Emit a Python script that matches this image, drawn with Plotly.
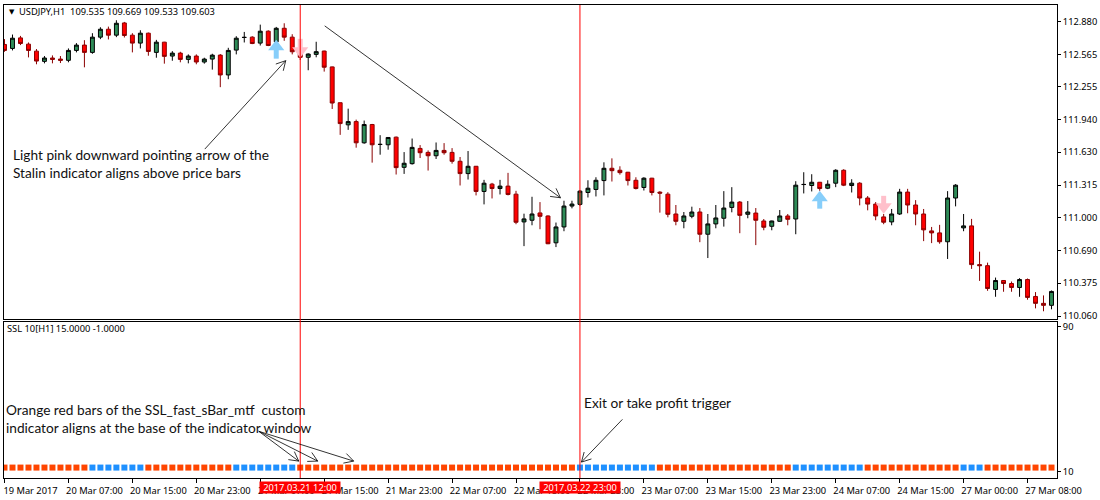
import math

import plotly.graph_objects as go
from plotly.subplots import make_subplots

# USDJPY H1 bars
open_price = [
    112.662, 112.624, 112.725, 112.665, 112.598, 112.500, 112.532, 112.522, 112.510, 112.605, 112.656,
    112.586, 112.732, 112.808, 112.751, 112.868, 112.751, 112.675, 112.770, 112.586, 112.684, 112.551,
    112.579, 112.519, 112.551, 112.494, 112.522, 112.560, 112.370, 112.608, 112.729, 112.732, 112.675,
    112.789, 112.687, 112.817, 112.732, 112.586, 112.539, 112.567, 112.599, 112.447, 112.104, 111.892,
    111.923, 111.720, 111.895, 111.704, 111.701, 111.774, 111.485, 111.520, 111.666, 111.628, 111.596,
    111.647, 111.628, 111.543, 111.425, 111.495, 111.254, 111.324, 111.282, 111.305, 111.228, 110.962,
    110.978, 111.048, 111.019, 110.762, 110.914, 111.114, 111.130, 111.244, 111.273, 111.358, 111.476,
    111.457, 111.438, 111.361, 111.292, 111.381, 111.247, 111.228, 111.038, 110.968, 111.016, 111.057,
    110.844, 110.943, 110.997, 111.101, 111.152, 111.035, 111.047, 110.971, 110.920, 110.968, 111.019,
    110.990, 111.320, 111.311, 111.342, 111.285, 111.333, 111.457, 111.311, 111.333, 111.191, 111.133,
    111.010, 110.962, 111.038, 111.248, 111.124, 111.038, 110.876, 110.857, 110.772, 111.191, 110.905,
    110.924, 110.553, 110.543, 110.315, 110.401, 110.372, 110.334, 110.410, 110.248, 110.182, 110.163]
high_price = [
    112.713, 112.757, 112.744, 112.681, 112.618, 112.551, 112.557, 112.551, 112.624, 112.675, 112.703,
    112.770, 112.827, 112.833, 112.894, 112.878, 112.770, 112.798, 112.776, 112.706, 112.687, 112.598,
    112.592, 112.567, 112.567, 112.535, 112.573, 112.570, 112.630, 112.741, 112.782, 112.741, 112.852,
    112.798, 112.830, 112.865, 112.760, 112.609, 112.577, 112.688, 112.602, 112.450, 112.104, 112.047,
    111.942, 111.933, 111.901, 111.793, 111.774, 111.780, 111.631, 111.761, 111.698, 111.647, 111.723,
    111.717, 111.669, 111.584, 111.641, 111.498, 111.365, 111.336, 111.365, 111.432, 111.260, 111.041,
    111.203, 111.152, 111.025, 110.956, 111.165, 111.165, 111.267, 111.361, 111.390, 111.533, 111.571,
    111.495, 111.441, 111.390, 111.390, 111.384, 111.257, 111.247, 111.124, 111.057, 111.108, 111.095,
    111.038, 111.124, 111.257, 111.295, 111.162, 111.162, 111.095, 110.990, 110.974, 111.076, 111.038,
    111.352, 111.438, 111.419, 111.345, 111.361, 111.467, 111.467, 111.371, 111.343, 111.210, 111.152,
    111.038, 111.086, 111.279, 111.279, 111.171, 111.086, 110.914, 110.934, 111.257, 111.324, 111.038,
    110.991, 110.677, 110.572, 110.429, 110.404, 110.391, 110.423, 110.420, 110.290, 110.258, 110.305]
low_price = [
    112.592, 112.605, 112.656, 112.538, 112.472, 112.481, 112.481, 112.484, 112.491, 112.586, 112.443,
    112.573, 112.713, 112.710, 112.732, 112.729, 112.586, 112.624, 112.554, 112.535, 112.478, 112.506,
    112.491, 112.481, 112.472, 112.478, 112.421, 112.253, 112.329, 112.567, 112.681, 112.665, 112.652,
    112.646, 112.656, 112.697, 112.567, 112.513, 112.415, 112.539, 112.402, 112.044, 111.796, 111.844,
    111.673, 111.711, 111.530, 111.606, 111.654, 111.416, 111.422, 111.511, 111.574, 111.454, 111.565,
    111.606, 111.520, 111.311, 111.368, 111.216, 111.130, 111.187, 111.225, 111.216, 110.940, 110.730,
    110.930, 110.892, 110.749, 110.721, 110.873, 111.092, 111.117, 111.196, 111.206, 111.216, 111.349,
    111.415, 111.311, 111.273, 111.263, 111.216, 111.051, 111.006, 110.930, 110.901, 110.997, 110.768,
    110.616, 110.901, 110.917, 111.054, 110.854, 110.997, 110.740, 110.882, 110.882, 110.965, 110.930,
    110.844, 111.235, 111.254, 111.260, 111.276, 111.295, 111.305, 111.244, 111.121, 111.073, 110.978,
    110.940, 110.930, 111.029, 111.045, 110.930, 110.778, 110.759, 110.753, 110.607, 111.111, 110.873,
    110.512, 110.397, 110.302, 110.245, 110.293, 110.293, 110.245, 110.217, 110.134, 110.106, 110.125]
close_price = [
    112.605, 112.722, 112.671, 112.605, 112.503, 112.532, 112.519, 112.510, 112.605, 112.656, 112.586,
    112.732, 112.808, 112.751, 112.865, 112.748, 112.675, 112.770, 112.595, 112.684, 112.548, 112.579,
    112.519, 112.551, 112.494, 112.522, 112.560, 112.370, 112.605, 112.722, 112.730, 112.671, 112.789,
    112.652, 112.817, 112.732, 112.592, 112.539, 112.570, 112.593, 112.444, 112.101, 111.904, 111.923,
    111.720, 111.895, 111.701, 111.705, 111.771, 111.482, 111.524, 111.676, 111.625, 111.596, 111.647,
    111.625, 111.543, 111.425, 111.495, 111.254, 111.333, 111.282, 111.305, 111.225, 110.959, 110.991,
    111.038, 111.016, 110.753, 110.914, 111.114, 111.133, 111.257, 111.285, 111.361, 111.476, 111.453,
    111.434, 111.358, 111.282, 111.381, 111.244, 111.238, 111.035, 110.968, 111.019, 111.057, 110.844,
    110.943, 111.000, 111.095, 111.152, 111.025, 111.057, 110.978, 110.911, 110.971, 111.019, 110.987,
    111.314, 111.321, 111.342, 111.282, 111.323, 111.457, 111.314, 111.333, 111.191, 111.133, 111.019,
    110.959, 111.038, 111.248, 111.124, 111.038, 110.886, 110.857, 110.772, 111.191, 111.314, 110.924,
    110.553, 110.543, 110.324, 110.401, 110.372, 110.334, 110.410, 110.239, 110.182, 110.163, 110.296]

bars = list(range(len(close_price)))

# SSL bars, 1 = blue, 0 = orange red
ssl_state = [
    0, 0, 0, 0, 0, 0, 0, 0, 0, 0, 0, 1, 1, 1, 1, 1, 1, 1, 0, 0, 0, 0, 0, 0, 0, 0, 0, 0, 0, 1, 1, 1, 1,
    1, 1, 1, 1, 0, 0, 0, 0, 0, 0, 0, 0, 0, 0, 0, 0, 0, 0, 0, 0, 0, 0, 0, 0, 0, 0, 0, 0, 0, 0, 0, 0, 0,
    0, 0, 0, 0, 0, 0, 1, 1, 1, 1, 1, 1, 1, 1, 1, 1, 0, 0, 0, 0, 0, 0, 0, 0, 0, 0, 0, 0, 0, 0, 0, 0, 0,
    1, 1, 1, 1, 1, 1, 1, 1, 1, 0, 0, 0, 0, 0, 0, 0, 0, 0, 0, 0, 0, 1, 1, 1, 0, 0, 0, 0, 0, 0, 0, 0, 0, 0, 0]
ssl_level = 12.3

# Stalin indicator arrows: tail of the shaft and middle of the head, as prices
stalin_up_bars = [34, 102]
stalin_up_tail = [112.526, 111.089]
stalin_up_head = [112.639, 111.193]
stalin_down_bars = [37, 110]
stalin_down_tail = [112.716, 111.212]
stalin_down_head = [112.602, 111.108]

price_ticks = [112.880, 112.565, 112.255, 111.940, 111.630, 111.315, 111.000, 110.690, 110.375, 110.060]
ssl_ticks = [90, 10]
time_tick_bars = [0, 8, 16, 24, 32, 40, 48, 56, 64, 72, 80, 88, 96, 104, 112, 120, 128]
time_tick_labels = ['19 Mar 2017', '20 Mar 07:00', '20 Mar 15:00', '20 Mar 23:00', '21 Mar 07:00', '21 Mar 15:00',
                    '21 Mar 23:00', '22 Mar 07:00', '22 Mar 15:00', '22 Mar 23:00', '23 Mar 07:00', '23 Mar 15:00',
                    '23 Mar 23:00', '24 Mar 07:00', '24 Mar 15:00', '27 Mar 00:00', '27 Mar 08:00']
cursor_bars = [37, 72]
cursor_labels = ['2017.03.21 12:00', '2017.03.22 23:00']

W, H = 1100, 500
LEFT, RIGHT, TOP, BOTTOM = 3, 1057, 3, 479
TICK_FONT = dict(family='Noto Sans', size=9.3, color='black')
NOTE_FONT = dict(family='Lato', size=13.7, color='#111111')


def px(x):
    return (x - LEFT) / (RIGHT - LEFT)


def py(y):
    return (BOTTOM - y) / (BOTTOM - TOP)


def stalin_arrow(bar_list, tails, heads, color, symbol):
    # shaft as a thick line, head as a triangle marker
    xs, ys = [], []
    for b, tail, head in zip(bar_list, tails, heads):
        xs += [b, b, None]
        ys += [tail, head, None]
    fig.add_trace(go.Scatter(x=xs, y=ys, mode='lines', line=dict(color=color, width=5), showlegend=False),
                  row=1, col=1)
    fig.add_trace(go.Scatter(x=bar_list, y=heads, mode='markers', showlegend=False,
                             marker=dict(symbol=symbol, size=14, color=color, line=dict(width=0))),
                  row=1, col=1)


fig = make_subplots(rows=2, cols=1, shared_xaxes=True)

fig.add_trace(go.Candlestick(
    x=bars, open=open_price, high=high_price, low=low_price, close=close_price,
    increasing=dict(fillcolor='#2E8B57', line=dict(color='black', width=1)),
    decreasing=dict(fillcolor='#FF0000', line=dict(color='#8B0000', width=1)),
    showlegend=False), row=1, col=1)

stalin_arrow(stalin_up_bars, stalin_up_tail, stalin_up_head, '#87CEFA', 'triangle-up')
stalin_arrow(stalin_down_bars, stalin_down_tail, stalin_down_head, '#FFC0CB', 'triangle-down')

fig.add_trace(go.Scatter(
    x=bars, y=[ssl_level] * len(bars), mode='markers',
    marker=dict(symbol='square', size=6, line=dict(width=0),
                color=['#1E90FF' if s else '#FF4500' for s in ssl_state]),
    showlegend=False), row=2, col=1)

for b in cursor_bars:
    fig.add_shape(type='line', xref='x', yref='paper', x0=b, x1=b, y0=0, y1=1,
                  line=dict(color='#FF0000', width=1))

notes = [
    (10, 163, 'Light pink downward pointing arrow of the<br>Stalin indicator aligns above price bars'),
    (3, 419, 'Orange red bars of the SSL_fast_sBar_mtf  custom<br>indicator aligns at the base of the indicator window'),
    (582, 403, 'Exit or take profit trigger'),
]
for x, y, text in notes:
    fig.add_annotation(xref='paper', yref='paper', x=px(x), y=py(y), text=text, showarrow=False,
                       xanchor='left', yanchor='middle', align='left', font=NOTE_FONT)

# start and tip of each hand drawn arrow, in picture pixels
arrows = [
    (204, 148, 285, 59), (324, 24, 560, 197),
    (258, 432, 298, 462), (258, 432, 317, 462), (258, 432, 353, 462),
    (622, 420, 581, 463),
]
for x0, y0, x1, y1 in arrows:
    ang = math.atan2(y0 - y1, x0 - x1)
    bx1, by1 = x1 + 10.5 * math.cos(ang + 0.5), y1 + 10.5 * math.sin(ang + 0.5)
    bx2, by2 = x1 + 10.5 * math.cos(ang - 0.5), y1 + 10.5 * math.sin(ang - 0.5)
    path = 'M %f %f L %f %f M %f %f L %f %f L %f %f' % (
        px(x0), py(y0), px(x1), py(y1), px(bx1), py(by1), px(x1), py(y1), px(bx2), py(by2))
    fig.add_shape(type='path', xref='paper', yref='paper', path=path, line=dict(color='black', width=0.8))

fig.add_annotation(xref='paper', yref='paper', x=px(16), y=py(10), text='USDJPY,H1  109.535 109.669 109.533 109.603',
                   showarrow=False, xanchor='left', yanchor='middle', font=TICK_FONT)
fig.add_annotation(xref='paper', yref='paper', x=px(6), y=py(10), text='\u25bc', showarrow=False,
                   xanchor='left', yanchor='middle', font=dict(family='DejaVu Sans', size=7, color='black'))
fig.add_annotation(xref='paper', yref='paper', x=px(4), y=py(329), text='SSL 10[H1] 15.0000 -1.0000',
                   showarrow=False, xanchor='left', yanchor='middle', font=TICK_FONT)

for b, label in zip(cursor_bars, cursor_labels):
    fig.add_annotation(xref='x', yref='paper', x=b, y=py(488.5), text=label, showarrow=False,
                       xanchor='center', yanchor='middle', bgcolor='#FF0000', borderpad=0, width=80, height=11,
                       font=dict(family='Noto Sans', size=9.3, color='white'))

axis_style = dict(showline=True, linecolor='black', linewidth=1, mirror=True, showgrid=False, zeroline=False,
                  ticks='outside', ticklen=3, tickwidth=1, tickcolor='black', tickfont=TICK_FONT)

fig.update_layout(
    width=W, height=H, margin=dict(l=LEFT, r=W - RIGHT, t=TOP, b=H - BOTTOM),
    paper_bgcolor='white', plot_bgcolor='white', showlegend=False,
    xaxis=dict(axis_style, domain=[0, 1], range=[-0.0625, 131.6875], rangeslider=dict(visible=False),
               ticks='', showticklabels=False),
    xaxis2=dict(axis_style, domain=[0, 1], range=[-0.0625, 131.6875], tickmode='array', ticklen=4,
                tickvals=time_tick_bars, ticktext=time_tick_labels, ticklabelshift=26, tickangle=0,
                anchor='y2'),
    yaxis=dict(axis_style, domain=[py(319), 1], range=[110.032, 113.040], side='right', tickmode='array',
               tickvals=price_ticks, ticktext=['%.3f' % t for t in price_ticks]),
    yaxis2=dict(axis_style, domain=[0, py(322)], range=[6.54, 92.75], side='right', tickmode='array',
                tickvals=ssl_ticks, ticktext=[str(t) for t in ssl_ticks]),
)

# the page body has an 8px margin by default, drop it so the figure fills the window
fig.write_html("out.html", config=dict(displayModeBar=False),
               post_script="document.body.style.margin='0';document.body.style.overflow='hidden';")
